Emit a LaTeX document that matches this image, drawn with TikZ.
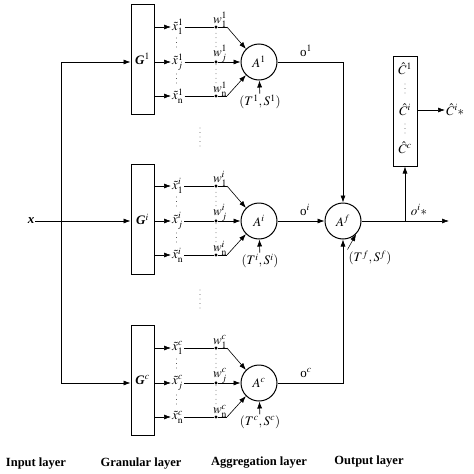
\documentclass[tikz,border=0pt]{standalone}
\usepackage{amsmath}
\usepackage{mathptmx}
\usepackage{fontspec}
\setmainfont{Liberation Serif}
\usetikzlibrary{arrows.meta,calc}

\begin{document}
\begin{tikzpicture}[x=1pt,y=-1pt,font=\fontsize{13}{15}\selectfont]
		\tikzset{box/.style = {shape=rectangle, draw, line width=1pt, minimum width=23pt, minimum height=110pt, inner sep=0pt}}
		\tikzset{agg/.style = {shape=circle, draw, line width=1pt, minimum size=36pt, inner sep=0pt}}
		\tikzset{wdot/.style = {shape=circle, fill=black, inner sep=1.1pt}}
		\tikzset{lbl/.style = {inner sep=1pt}}
		\tikzset{edge/.style = {-{Latex[length=7pt,width=5pt]}, line width=.6pt}}
		\tikzset{wire/.style = {line width=.6pt}}
		\tikzset{dotcol/.style = {line width=.9pt, dash pattern=on 0pt off 4.5pt, line cap=round}}
		\tikzset{layer/.style = {font=\fontsize{12.5}{14}\selectfont\bfseries}}

		\useasboundingbox (0,0) rectangle (474,474);

		% input layer
		\node[lbl] (x) at (31,221) {\textbf{\textit{x}}};
		\coordinate (s_1) at (61,62);
		\coordinate (s_c) at (61,383);

		% granular layer
		\node[box] (G_1) at (142.5,59) {\textbf{\textit{G}}$^{1}$};
		\node[box] (G_i) at (142.5,219.5) {\textbf{\textit{G}}$^{i}$};
		\node[box] (G_c) at (142.5,380) {\textbf{\textit{G}}$^{c}$};

		\draw[wire] (s_1) -- (s_c);
		\draw[edge] (s_1) -- (G_1.west |- s_1);
		\draw[edge] (x) -- (G_i.west |- x);
		\draw[edge] (s_c) -- (G_c.west |- s_c);

		% aggregation layer
		\node[agg] (A_1) at (259,62) {$A^{1}$};
		\node[agg] (A_i) at (259,221) {$A^{i}$};
		\node[agg] (A_c) at (259,383) {$A^{c}$};
		\node[agg] (A_f) at (343,221) {$A^{f}$};

		% group 1
		\node[lbl, anchor=west] (xt_11) at (171,27) {$\tilde{x}^{1}_{1}$};
		\node[lbl, anchor=west] (xt_1j) at (171,62) {$\tilde{x}^{1}_{j}$};
		\node[lbl, anchor=west] (xt_1n) at (171,96) {$\tilde{x}^{1}_{\mathrm{n}}$};
		\node[wdot] (w_11) at (216,27) {};
		\node[wdot] (w_1j) at (216,62) {};
		\node[wdot] (w_1n) at (216,96) {};
		\node[lbl, anchor=south, xshift=4pt, yshift=-3pt] (wl_11) at (w_11.north) {$w^{1}_{1}$};
		\node[lbl, anchor=south, xshift=4pt, yshift=-3pt] (wl_1j) at (w_1j.north) {$w^{1}_{j}$};
		\node[lbl, anchor=south, xshift=4pt, yshift=-3pt] (wl_1n) at (w_1n.north) {$w^{1}_{\mathrm{n}}$};
		\coordinate (b_11) at (227,27);
		\coordinate (b_1n) at (227,96);
		\draw[edge] (G_1.east |- xt_11) -- (xt_11.west);
		\draw[edge] (G_1.east |- xt_1j) -- (xt_1j.west);
		\draw[edge] (G_1.east |- xt_1n) -- (xt_1n.west);
		\draw[wire] (xt_11) -- (w_11) -- (b_11);
		\draw[edge] (b_11) -- (A_1.135);
		\draw[edge] (xt_1j) -- (w_1j) -- (A_1);
		\draw[wire] (xt_1n) -- (w_1n) -- (b_1n);
		\draw[edge] (b_1n) -- (A_1.225);
		\draw[dotcol] (176.5,38) -- (176.5,50);
		\draw[dotcol] (176.5,74) -- (176.5,86);
		\draw[dotcol] (w_11) -- (w_1n);
		\node[lbl] (ts_1) at (260,102) {$(T^{1}, S^{1})$};
		\draw[edge] (ts_1) -- (A_1);

		% group i
		\node[lbl, anchor=west] (xt_i1) at (171,186) {$\tilde{x}^{i}_{1}$};
		\node[lbl, anchor=west] (xt_ij) at (171,221) {$\tilde{x}^{i}_{j}$};
		\node[lbl, anchor=west] (xt_in) at (171,255) {$\tilde{x}^{i}_{\mathrm{n}}$};
		\node[wdot] (w_i1) at (216,186) {};
		\node[wdot] (w_ij) at (216,221) {};
		\node[wdot] (w_in) at (216,255) {};
		\node[lbl, anchor=south, xshift=4pt, yshift=-3pt] (wl_i1) at (w_i1.north) {$w^{i}_{1}$};
		\node[lbl, anchor=south, xshift=4pt, yshift=-3pt] (wl_ij) at (w_ij.north) {$w^{i}_{j}$};
		\node[lbl, anchor=south, xshift=4pt, yshift=-3pt] (wl_in) at (w_in.north) {$w^{i}_{\mathrm{n}}$};
		\coordinate (b_i1) at (227,186);
		\coordinate (b_in) at (227,255);
		\draw[edge] (G_i.east |- xt_i1) -- (xt_i1.west);
		\draw[edge] (G_i.east |- xt_ij) -- (xt_ij.west);
		\draw[edge] (G_i.east |- xt_in) -- (xt_in.west);
		\draw[wire] (xt_i1) -- (w_i1) -- (b_i1);
		\draw[edge] (b_i1) -- (A_i.135);
		\draw[edge] (xt_ij) -- (w_ij) -- (A_i);
		\draw[wire] (xt_in) -- (w_in) -- (b_in);
		\draw[edge] (b_in) -- (A_i.225);
		\draw[dotcol] (176.5,197) -- (176.5,209);
		\draw[dotcol] (176.5,233) -- (176.5,245);
		\draw[dotcol] (w_i1) -- (w_in);
		\node[lbl] (ts_i) at (260,261) {$(T^{i}, S^{i})$};
		\draw[edge] (ts_i) -- (A_i);

		% group c
		\node[lbl, anchor=west] (xt_c1) at (171,348) {$\tilde{x}^{c}_{1}$};
		\node[lbl, anchor=west] (xt_cj) at (171,383) {$\tilde{x}^{c}_{j}$};
		\node[lbl, anchor=west] (xt_cn) at (171,417) {$\tilde{x}^{c}_{\mathrm{n}}$};
		\node[wdot] (w_c1) at (216,348) {};
		\node[wdot] (w_cj) at (216,383) {};
		\node[wdot] (w_cn) at (216,417) {};
		\node[lbl, anchor=south, xshift=4pt, yshift=-3pt] (wl_c1) at (w_c1.north) {$w^{c}_{1}$};
		\node[lbl, anchor=south, xshift=4pt, yshift=-3pt] (wl_cj) at (w_cj.north) {$w^{c}_{j}$};
		\node[lbl, anchor=south, xshift=4pt, yshift=-3pt] (wl_cn) at (w_cn.north) {$w^{c}_{\mathrm{n}}$};
		\coordinate (b_c1) at (227,348);
		\coordinate (b_cn) at (227,417);
		\draw[edge] (G_c.east |- xt_c1) -- (xt_c1.west);
		\draw[edge] (G_c.east |- xt_cj) -- (xt_cj.west);
		\draw[edge] (G_c.east |- xt_cn) -- (xt_cn.west);
		\draw[wire] (xt_c1) -- (w_c1) -- (b_c1);
		\draw[edge] (b_c1) -- (A_c.135);
		\draw[edge] (xt_cj) -- (w_cj) -- (A_c);
		\draw[wire] (xt_cn) -- (w_cn) -- (b_cn);
		\draw[edge] (b_cn) -- (A_c.225);
		\draw[dotcol] (176.5,359) -- (176.5,371);
		\draw[dotcol] (176.5,395) -- (176.5,407);
		\draw[dotcol] (w_c1) -- (w_cn);
		\node[lbl] (ts_c) at (260,422) {$(T^{c}, S^{c})$};
		\draw[edge] (ts_c) -- (A_c);

		% dots between groups
		\draw[dotcol] (200,128) -- (200,147);
		\draw[dotcol] (200,290) -- (200,309);

		% output layer
		\node[lbl] (o_1) at (306,51) {o$^{1}$};
		\node[lbl] (o_i) at (305,210) {o$^{i}$};
		\node[lbl] (o_c) at (306,373) {o$^{c}$};
		\draw[edge] (A_1) -| (A_f);
		\draw[edge] (A_i) -- (A_f);
		\draw[edge] (A_c) -| (A_f);
		\node[lbl] (ts_f) at (370,258) {$(T^{f}, S^{f})$};
		\draw[edge, line width=.5pt] (ts_f.north west) -- (A_f.-45);

		\node[box, minimum width=24pt] (C) at (405,111) {};
		\node[lbl] (ch_1) at (405,69) {$\hat{C}^{1}$};
		\node[lbl] (ch_i) at (405,110) {$\hat{C}^{i}$};
		\node[lbl] (ch_c) at (405,148) {$\hat{C}^{c}$};
		\draw[dotcol] (405,84) -- (405,96);
		\draw[dotcol] (405,124) -- (405,134);

		\coordinate (out) at (449,221);
		\draw[edge] (A_f) -- (out);
		\draw[edge] (C.south |- A_f) -- (C);
		\node[lbl] (os) at (419,210) {$o^{i}{*}$};
		\node[lbl, anchor=west] (cs) at (445,110) {$\hat{C}^{i}{*}$};
		\draw[edge] (C.east |- cs) -- (cs.west);

		% layer names
		\node[layer] (L_in) at (36,464) {Input layer};
		\node[layer] (L_gr) at (141,464) {Granular layer};
		\node[layer] (L_ag) at (259,463) {Aggregation layer};
		\node[layer] (L_out) at (369,462) {Output layer};
	\end{tikzpicture}
\end{document}
